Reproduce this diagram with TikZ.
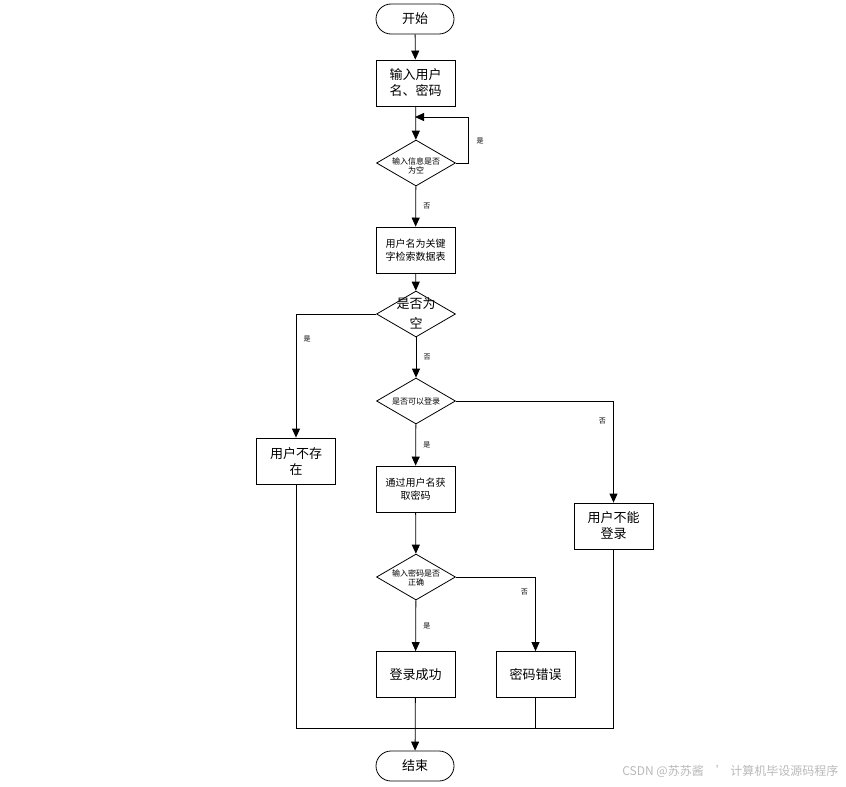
\documentclass[tikz,border=0pt]{standalone}
\usepackage{fontspec}
\setmainfont{Noto Sans CJK SC}
\usetikzlibrary{shapes.geometric,arrows.meta}
\begin{document}
\begin{tikzpicture}[x=1pt,y=-1pt,
 box/.style={draw,thick,minimum width=79pt,minimum height=46pt,align=center,font=\fontsize{13}{16}\selectfont,text width=70pt},
 term/.style={draw,thick,rounded corners=15pt,minimum width=78pt,minimum height=30pt,font=\fontsize{13}{16}\selectfont},
 dia/.style={draw,thick,diamond,aspect=1.7,minimum width=79pt,minimum height=46pt,inner sep=0pt,align=center,font=\fontsize{8}{9.5}\selectfont},
 lab/.style={font=\fontsize{7}{8}\selectfont},
 arr/.style={thick,-{Triangle[length=9pt,width=8pt]}},
 ln/.style={thick}]
\useasboundingbox (0,0) rectangle (846,787);
\node[term] (start) at (415,19) {开始};
\node[box] (in) at (415.5,83) {输入用户\\名、密码};
\node[dia] (d1) at (416,163) {};
\node[font=\fontsize{8}{9.5}\selectfont,align=center] at (416,166) {输入信息是否\\为空};
\node[box,font=\fontsize{10}{13}\selectfont] (q) at (415.5,250) {用户名为关键\\字检索数据表};
\node[dia] (d2) at (416,314) {};
\node[font=\fontsize{13}{20}\selectfont,align=center] at (416,313) {是否为\\空};
\node[dia] (d3) at (416,401) {是否可以登录};
\node[box] (none) at (296,461) {用户不存\\在};
\node[box,font=\fontsize{10}{13}\selectfont] (get) at (415.5,489) {通过用户名获\\取密码};
\node[box] (cant) at (613.5,526) {用户不能\\登录};
\node[dia] (d4) at (416,577) {};
\node[font=\fontsize{8}{9.5}\selectfont,align=center] at (416,578) {输入密码是否\\正确};
\node[box] (ok) at (415.5,674.5) {登录成功};
\node[box] (err) at (535.5,674.5) {密码错误};
\node[term] (end) at (415,766) {结束};
\coordinate (m) at (415,728);
\draw[arr] (start) -- (in);
\draw[arr] (in) -- (d1);
\draw[arr] (d1.east) -- ++(12,0) |- (415,117);
\node[lab] at (480,141) {是};
\draw[arr] (d1) -- (q) node[lab,midway,right=4pt] {否};
\draw[arr] (q) -- (d2);
\draw[arr] (d2.west) -| (none.north) node[lab,pos=0.6,right=4pt] {是};
\draw[arr] (d2) -- (d3) node[lab,midway,right=4pt] {否};
\draw[arr] (d3.east) -| (cant.north) node[lab,pos=0.6,left=4pt] {否};
\draw[arr] (d3) -- (get) node[lab,midway,right=4pt] {是};
\draw[arr] (get) -- (d4);
\draw[arr] (d4.east) -| (err.north) node[lab,pos=0.6,left=4pt] {否};
\draw[arr] (d4) -- (ok) node[lab,midway,right=4pt] {是};
\draw[ln] (none.south) |- (cant.south |- m) -- (cant.south);
\draw[ln] (err.south) -- (err.south |- m);
\draw[arr] (ok) -- (end);
\node[anchor=east,text=gray!55,font=\fontsize{12}{14}\selectfont] at (842,771) {CSDN @苏苏酱\quad ' 计算机毕设源码程序};
\end{tikzpicture}
\end{document}
